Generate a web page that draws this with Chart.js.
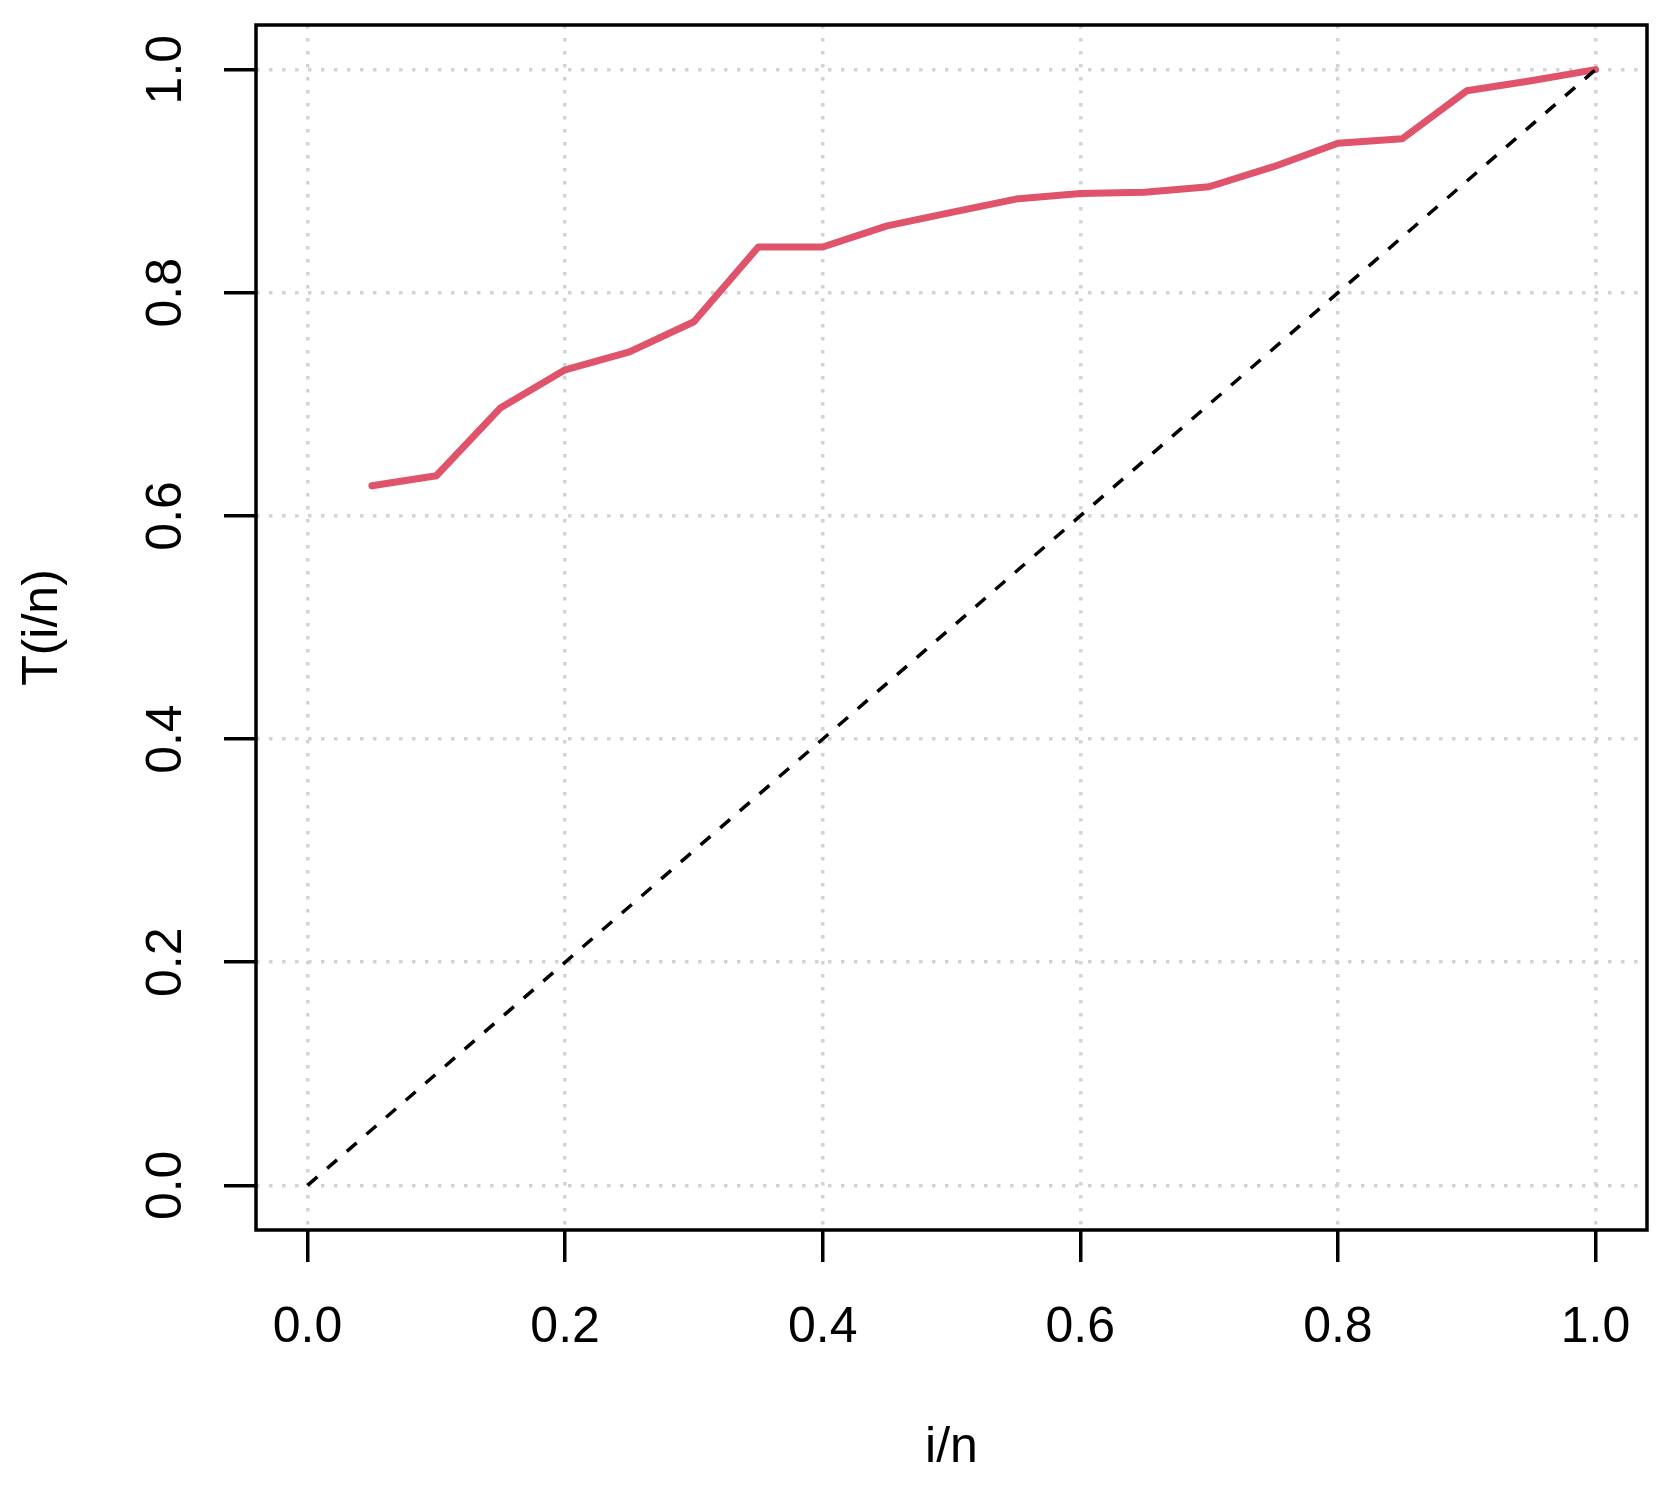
<!DOCTYPE html>
<html>
<head>
<meta charset="utf-8">
<script src="https://cdn.jsdelivr.net/npm/chart.js@4/dist/chart.umd.min.js"></script>
<style>
  html, body { margin: 0; padding: 0; background: #fff; }
  canvas { display: block; }
</style>
</head>
<body>
<canvas id="tplot" width="1668" height="1491" style="width:1668px;height:1491px"></canvas>
<script>
// values
const proportions = [0.05, 0.10, 0.15, 0.20, 0.25, 0.30, 0.35, 0.40, 0.45, 0.50,
                     0.55, 0.60, 0.65, 0.70, 0.75, 0.80, 0.85, 0.90, 0.95, 1.00];
const tValues = [0.627, 0.636, 0.697, 0.731, 0.747, 0.774, 0.841, 0.841, 0.860, 0.872,
                 0.884, 0.889, 0.890, 0.895, 0.913, 0.934, 0.938, 0.981, 0.990, 1.000];
const diagX = [0, 1];
const diagY = [0, 1];
const xTicks = [0, 0.2, 0.4, 0.6, 0.8, 1.0];
const yTicks = [0, 0.2, 0.4, 0.6, 0.8, 1.0];
const axisRange = [-0.04, 1.04]; // R pads the data range by 4% on each side

const toPoints = (xs, ys) => xs.map((x, i) => ({ x: x, y: ys[i] }));

// plot box like R's box()
const boxPlugin = {
  id: 'box',
  afterDraw(chart) {
    const { ctx, chartArea: a } = chart;
    ctx.save();
    ctx.strokeStyle = '#000';
    ctx.lineWidth = 3.5;
    ctx.strokeRect(a.left, a.top, a.right - a.left, a.bottom - a.top);
    ctx.restore();
  }
};

Chart.defaults.font.family = '"Liberation Sans", Arial, sans-serif';
Chart.defaults.color = '#000';

const gridOpts = {
  color: '#D3D3D3',
  lineWidth: 3.5,
  tickLength: 32,
  tickColor: '#000',
  tickWidth: 3.5,
  tickBorderDash: []
};

new Chart(document.getElementById('tplot'), {
  type: 'line',
  data: {
    datasets: [
      {
        label: 'identity',
        data: toPoints(diagX, diagY),
        borderColor: '#000',
        borderWidth: 3.5,
        borderDash: [13, 13],
        pointRadius: 0,
        order: 0
      },
      {
        label: 'T(i/n)',
        data: toPoints(proportions, tValues),
        borderColor: '#DF536B',
        borderWidth: 7,
        borderCapStyle: 'round',
        borderJoinStyle: 'round',
        pointRadius: 0,
        tension: 0,
        order: 1
      }
    ]
  },
  options: {
    responsive: false,
    animation: false,
    devicePixelRatio: 1,
    layout: { padding: { top: 25, right: 21, left: 0, bottom: 0 } },
    plugins: { legend: { display: false }, tooltip: { enabled: false } },
    scales: {
      x: {
        type: 'linear',
        position: 'bottom',
        min: axisRange[0],
        max: axisRange[1],
        afterBuildTicks: s => { s.ticks = xTicks.map(v => ({ value: v })); },
        afterFit: s => { s.height = 261; s.paddingLeft = 0; s.paddingRight = 0; },
        grid: gridOpts,
        border: { display: false, dash: [3.5, 9.5] },
        ticks: {
          padding: 36,
          maxRotation: 0,
          font: { size: 50 },
          callback: v => v.toFixed(1)
        },
        title: {
          display: true,
          text: 'i/n',
          font: { size: 50 },
          padding: { top: 0, bottom: 13 }
        }
      },
      y: {
        type: 'linear',
        position: 'left',
        min: axisRange[0],
        max: axisRange[1],
        afterBuildTicks: s => { s.ticks = yTicks.map(v => ({ value: v })); },
        afterFit: s => { s.width = 256; s.paddingTop = 0; s.paddingBottom = 0; },
        grid: gridOpts,
        border: { display: false, dash: [3.5, 9.5] },
        ticks: {
          padding: 22,
          minRotation: 90,
          maxRotation: 90,
          crossAlign: 'center',
          font: { size: 50 },
          callback: v => v.toFixed(1)
        },
        title: {
          display: true,
          text: 'T(i/n)',
          font: { size: 50 },
          padding: { top: 13, bottom: 0 }
        }
      }
    }
  },
  plugins: [boxPlugin]
});
</script>
</body>
</html>
